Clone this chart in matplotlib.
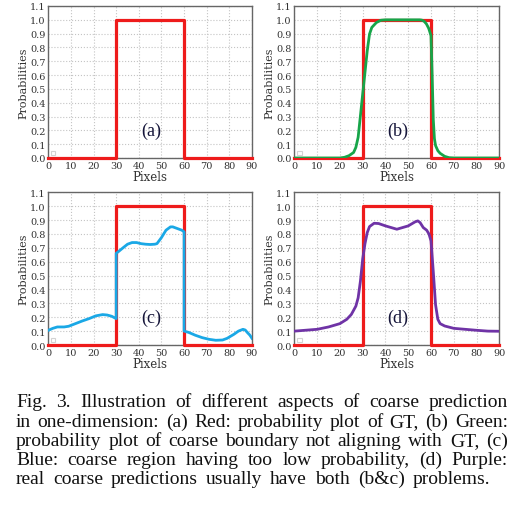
import matplotlib
matplotlib.use("Agg")
import matplotlib.pyplot as plt

# ground truth step (red)
gt_x = [0, 30, 30, 60, 60, 90]
gt_y = [0, 0, 1, 1, 0, 0]

# (b) coarse boundary, green
green_x = [0, 20, 22, 24, 26, 27, 28, 29, 30, 31, 32, 33, 34, 36, 38, 40, 45, 50, 55,
           56, 57, 58, 59, 60, 60.5, 61, 61.5, 62, 63, 64, 66, 68, 70, 90]
green_y = [0, 0, 0.005, 0.017, 0.04, 0.077, 0.15, 0.306, 0.463, 0.62, 0.777, 0.897, 0.945,
           0.98, 0.997, 1.0, 1.0, 1.0, 1.0, 0.998, 0.989, 0.97, 0.938, 0.885, 0.6, 0.28,
           0.14, 0.09, 0.053, 0.034, 0.012, 0.002, 0, 0]

# (c) low probability region, blue
blue_x = [0, 2, 4, 7, 9, 12, 15, 18, 21, 24, 26, 28, 30,
          30, 31, 33, 35, 37, 39, 41, 43, 45, 47, 48, 50, 52, 54, 55, 57, 59, 60,
          60, 62, 65, 68, 71, 74, 77, 79, 82, 84, 86, 87, 88, 89, 90]
blue_y = [0.106, 0.12, 0.13, 0.13, 0.135, 0.154, 0.173, 0.19, 0.21, 0.219, 0.216, 0.207, 0.19,
          0.66, 0.673, 0.70, 0.726, 0.738, 0.738, 0.73, 0.726, 0.724, 0.726, 0.73, 0.774,
          0.827, 0.851, 0.851, 0.839, 0.827, 0.815,
          0.10, 0.091, 0.07, 0.053, 0.041, 0.034, 0.036, 0.048, 0.077, 0.10, 0.113, 0.108,
          0.089, 0.072, 0.048]

# (d) real prediction, purple
purple_x = [0, 10, 15, 20, 23, 25, 27, 28, 29, 30, 31, 32, 33, 35, 37, 40, 45, 50, 53,
            54.2, 55.2, 56.6, 58.1, 59.1, 60, 61, 62, 63, 64, 66, 70, 75, 80, 85, 90]
purple_y = [0.10, 0.113, 0.13, 0.154, 0.185, 0.22, 0.28, 0.34, 0.46, 0.62, 0.73, 0.81,
            0.853, 0.877, 0.875, 0.858, 0.834, 0.858, 0.887, 0.894, 0.882, 0.846, 0.827,
            0.80, 0.75, 0.53, 0.29, 0.185, 0.154, 0.137, 0.12, 0.113, 0.106, 0.10, 0.099]

panels = ["(a)", "(b)", "(c)", "(d)"]
curves = [None, (green_x, green_y, "#17a549"), (blue_x, blue_y, "#1aa8e6"),
          (purple_x, purple_y, "#6f33a6")]

caption = [
    "Fig. 3. Illustration of different aspects of coarse prediction",
    "in one-dimension: (a) Red: probability plot of GT, (b) Green:",
    "probability plot of coarse boundary not aligning with GT, (c)",
    "Blue: coarse region having too low probability, (d) Purple:",
    "real coarse predictions usually have both (b&c) problems.",
]

W, H = 521, 506
fig = plt.figure(figsize=(W / 100, H / 100), dpi=100)

boxes = [(48.3, 7, 252, 159), (294.4, 7, 499.3, 159),
         (48.3, 193.3, 252, 346), (294.4, 193.3, 499.3, 346)]

for i, (x0, y0, x1, y1) in enumerate(boxes):
    ax = fig.add_axes([x0 / W, 1 - y1 / H, (x1 - x0) / W, (y1 - y0) / H])
    ax.set_xlim(0, 90)
    ax.set_ylim(0, 1.1)
    ax.set_xticks(range(0, 91, 10))
    ax.set_yticks([k / 10 for k in range(12)])
    ax.set_yticklabels(["%.1f" % (k / 10) for k in range(12)])
    ax.grid(True, color="#c4c4c4", linestyle=":", linewidth=0.8)
    ax.set_axisbelow(True)
    for s in ax.spines.values():
        s.set_color("#666666")
        s.set_linewidth(1.0)
    ax.tick_params(length=0, pad=2, labelsize=7, labelcolor="#333333")
    for lab in ax.get_xticklabels() + ax.get_yticklabels():
        lab.set_family("DejaVu Serif")
    ax.set_xlabel("Pixels", family="DejaVu Serif", fontsize=8.5, color="#333333",
                  labelpad=0)
    ax.set_ylabel("Probabilities", family="DejaVu Serif", fontsize=8, color="#333333",
                  labelpad=1)

    ax.plot(gt_x, gt_y, color="#ee1b1b", lw=2.3, clip_on=False, zorder=3)
    if curves[i] is not None:
        cx, cy, col = curves[i]
        ax.plot(cx, cy, color=col, lw=2.0, zorder=4)

    leg = ax.legend(handles=[], loc="lower left", frameon=True, fontsize=6,
                    borderpad=0.25, borderaxespad=0.36, fancybox=False)
    leg.get_frame().set_edgecolor("#c8c8c8")
    leg.get_frame().set_linewidth(0.8)
    ax.text(45.5, 0.2, panels[i], ha="center", va="center", fontsize=13,
            family="Liberation Serif", color="#15153a")

# caption, justified like the paper
fig.canvas.draw()
r = fig.canvas.get_renderer()
fs = 14
left = 16
rights = [508, 508, 508, 508, 490]
baselines = [407.5, 426.8, 446.0, 465.2, 484.4]
for li, line in enumerate(caption):
    yb = 1 - baselines[li] / H
    words = line.split(" ")
    widths = []
    for w in words:
        tt = fig.text(0, 0, w, fontsize=fs, family="Liberation Serif")
        widths.append(tt.get_window_extent(r).width)
        tt.remove()
    gap = (rights[li] - left - sum(widths)) / (len(words) - 1)
    x = left
    for w, ww in zip(words, widths):
        fig.text(x / W, yb, w, fontsize=fs, family="Liberation Serif",
                 va="baseline", ha="left", color="#111111")
        x += ww + gap

fig.savefig("out.png", dpi=100)
